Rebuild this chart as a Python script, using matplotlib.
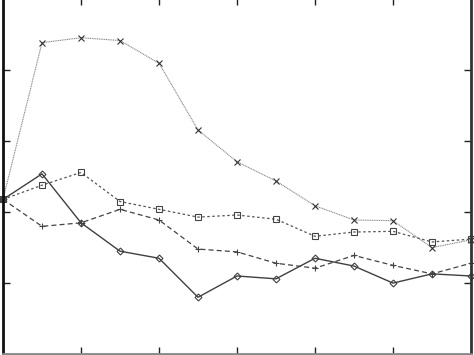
import matplotlib
matplotlib.use('Agg')
import matplotlib.pyplot as plt

# x positions 0..12
steps = list(range(13))
cross_vals = [2.18, 4.39, 4.46, 4.42, 4.10, 3.16, 2.71, 2.44, 2.09, 1.89, 1.88, 1.50, 1.61]
square_vals = [2.18, 2.38, 2.56, 2.15, 2.04, 1.93, 1.96, 1.90, 1.66, 1.72, 1.73, 1.58, 1.62]
plus_vals = [2.18, 1.80, 1.85, 2.04, 1.89, 1.48, 1.44, 1.28, 1.21, 1.39, 1.25, 1.13, 1.28]
diamond_vals = [2.18, 2.54, 1.85, 1.45, 1.35, 0.80, 1.10, 1.06, 1.35, 1.24, 1.00, 1.13, 1.10]

xticks = [2, 4, 6, 8, 10]
yticks = [1, 2, 3, 4]

fig = plt.figure(figsize=(4.74, 3.55), dpi=100)
ax = fig.add_axes([3/474, 1/355, 468/474, 356/355])

ax.plot(steps, cross_vals, color='#8a8a8a', lw=0.8, ls=(0, (1, 0.6)),
        marker='x', ms=5, mew=0.8, mec='#333333', clip_on=False)
ax.plot(steps, square_vals, color='#555555', lw=0.9, ls=(0, (2, 2)),
        marker='s', ms=5, mfc='none', mew=0.8, mec='#444444', clip_on=False)
ax.plot(steps, plus_vals, color='#444444', lw=0.9, ls=(0, (4, 2.5)),
        marker='+', ms=5, mew=0.8, clip_on=False)
ax.plot(steps, diamond_vals, color='#404040', lw=1.0, ls='-',
        marker='D', ms=3.5, mfc='none', mew=0.8, clip_on=False)

ax.set_xlim(0, 12)
ax.set_ylim(0, 5.02)
ax.set_xticks(xticks)
ax.set_yticks(yticks)
ax.tick_params(direction='in', length=5, width=1, top=True, right=True,
               labelbottom=False, labelleft=False, color='#222222')

ax.spines['left'].set_linewidth(2)
ax.spines['left'].set_color('#111111')
ax.spines['right'].set_linewidth(2)
ax.spines['right'].set_color('#333333')
ax.spines['bottom'].set_linewidth(2)
ax.spines['bottom'].set_color('#888888')
ax.spines['top'].set_visible(False)

fig.savefig('out.png', dpi=100)
